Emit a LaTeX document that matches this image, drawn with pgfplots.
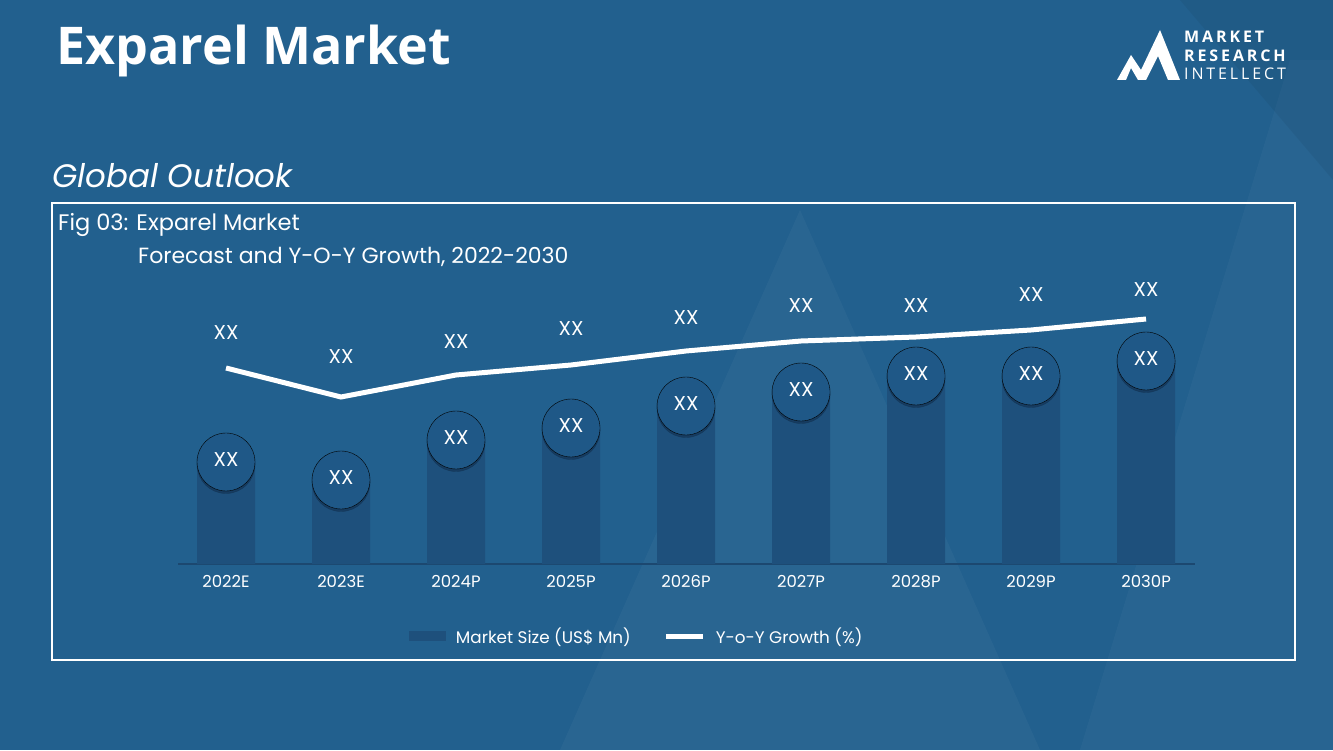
\documentclass[border=0pt]{standalone}
\usepackage{pgfplots}
\pgfplotsset{compat=1.18}
\usepackage{fontspec}
\setmainfont{Poppins}
\newfontfamily\titlefont{Open Sans}
\newfontfamily\logofont[LetterSpace=18]{Open Sans}
\definecolor{bgc}{RGB}{34,96,142}
\definecolor{barc}{RGB}{30,80,124}
\definecolor{circc}{RGB}{31,88,135}
\definecolor{shadc}{RGB}{16,45,75}
\definecolor{linec}{RGB}{28,72,112}
\begin{document}
\begin{tikzpicture}
\useasboundingbox (0,0) rectangle (1333pt,750pt);
\fill[bgc] (0,0) rectangle (1333pt,750pt);
\begin{scope}[x=1pt,y=-1pt,shift={(0pt,750pt)}]
  \fill[white,opacity=0.035] (800,210) -- (560,750) -- (1040,750) -- cycle;
  \fill[white,opacity=0.03] (1290,60) -- (1080,750) -- (1333,750) -- (1333,60) -- cycle;
  \fill[black,opacity=0.05] (1333,0) -- (1333,180) -- (1180,0) -- cycle;
  % frame
  \draw[white,line width=2pt] (52,203) rectangle (1295,660);
  % titles
  \node[anchor=base west,inner sep=0,text=white,font=\titlefont\fontsize{52}{56}\selectfont\bfseries] at (56,65) {Exparel Market};
  \node[anchor=base west,inner sep=0,text=white,font=\fontsize{32.5}{38}\selectfont\itshape] at (52,188) {Global Outlook};
  \node[anchor=base west,inner sep=0,text=white,font=\fontsize{22.5}{26}\selectfont] at (58,231) {Fig 03: Exparel Market};
  \node[anchor=base west,inner sep=0,text=white,font=\fontsize{22}{26}\selectfont] at (138,264) {Forecast and Y-O-Y Growth, 2022-2030};
  % logo
  \fill[white] (1117,80) -- (1131,55) -- (1141,70) -- (1160,30) -- (1180,80) -- (1168,80) -- (1158,56) -- (1146,80) -- (1138,80) -- (1131,68) -- (1126,80) -- cycle;
  \node[anchor=base west,inner sep=0,text=white,font=\logofont\fontsize{16}{18}\selectfont\bfseries] at (1184,43) {MARKET};
  \node[anchor=base west,inner sep=0,text=white,font=\logofont\fontsize{16}{18}\selectfont\bfseries] at (1184,62) {RESEARCH};
  \node[anchor=base west,inner sep=0,text=white,font=\logofont\fontsize{16}{18}\selectfont] at (1184,80) {INTELLECT};
\end{scope}
\begin{axis}[
  at={(178pt,186pt)}, anchor=south west,
  scale only axis, width=1017pt, height=300pt,
  xmin=-0.4174, xmax=8.4261, ymin=0, ymax=300,
  axis x line*=bottom, hide y axis,
  x axis line style={draw=linec,line width=1.2pt},
  xtick={0,...,8}, major tick length=0pt,
  xticklabels={2022E,2023E,2024P,2025P,2026P,2027P,2028P,2029P,2030P},
  xticklabel style={font=\fontsize{16.5}{18}\selectfont, text=white, anchor=base, yshift=-23pt},
  clip=false,
  legend style={at={(0.451,-0.24)}, anchor=center, draw=none, fill=none,
    text=white, font=\fontsize{16.8}{18}\selectfont, legend columns=2,
    /tikz/every odd column/.append style={column sep=8pt},
    /tikz/every even column/.append style={column sep=31pt}},
  legend cell align=left,
]
\addplot[ybar, bar width=58pt, fill=barc, draw=none,
  legend image code/.code={\fill[barc] (0pt,-5pt) rectangle (37pt,5pt);}]
  coordinates {(0,102) (1,84) (2,124) (3,136) (4,158) (5,172) (6,188) (7,188) (8,203)};
\addlegendentry{Market Size (US\$ Mn)}
\addplot[white, line width=5pt, mark=none,
  legend image code/.code={\draw[white,line width=5pt] (0pt,0pt) -- (37pt,0pt);}]
  coordinates {(0,196) (1,167) (2,189) (3,199) (4,213) (5,223) (6,227) (7,234) (8,245)};
\addlegendentry{Y-o-Y Growth (\%)}
% shadows
\addplot[only marks, mark=*, mark size=29pt, shadc, opacity=0.55, forget plot,
  mark options={draw=none, fill=shadc, yshift=-2.5pt}]
  coordinates {(0,102) (1,84) (2,124) (3,136) (4,158) (5,172) (6,188) (7,188) (8,203)};
% circles with labels
\addplot[only marks, mark=*, mark size=29pt, forget plot,
  mark options={draw=none, fill=circc},
  nodes near coords={XX},
  every node near coord/.style={anchor=center, text=white, yshift=2pt, font=\fontsize{20}{22}\selectfont}]
  coordinates {(0,102) (1,84) (2,124) (3,136) (4,158) (5,172) (6,188) (7,188) (8,203)};
% line labels (positions of the labels above the growth line)
\addplot[draw=none, mark=none, forget plot,
  nodes near coords={XX},
  every node near coord/.style={anchor=center, text=white, font=\fontsize{20}{22}\selectfont}]
  coordinates {(0,231) (1,207) (2,222) (3,235) (4,246) (5,258) (6,258) (7,269) (8,274)};
\end{axis}
\end{tikzpicture}
\end{document}
